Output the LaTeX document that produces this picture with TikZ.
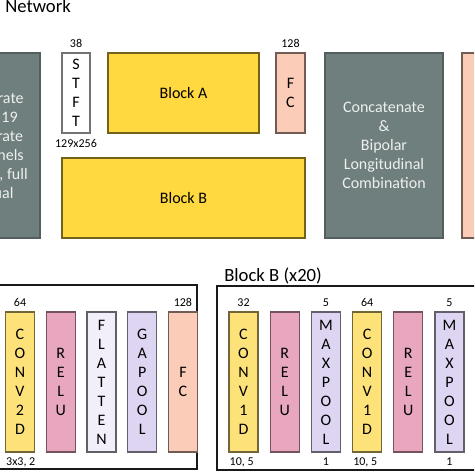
\documentclass[tikz,border=0pt]{standalone}
\usepackage{fontspec}
\setmainfont{Carlito}
\usetikzlibrary{positioning}

\definecolor{blockyellow}{HTML}{FFD93F}
\definecolor{layeryellow}{HTML}{FDE27A}
\definecolor{fcsalmon}{HTML}{FBCDB9}
\definecolor{relupink}{HTML}{E8A7BF}
\definecolor{poollilac}{HTML}{DDD5F1}
\definecolor{flatlilac}{HTML}{F3EFFA}
\definecolor{mixgrey}{HTML}{6F7F7D}

\begin{document}
\begin{tikzpicture}[
  x=0.75pt, y=-0.75pt,
  font=\fontsize{12}{14.25}\selectfont,
  box/.style={draw, line width=0.9pt, inner sep=0pt, align=center},
  layer/.style={box, minimum width=21.75pt, minimum height=105pt},
  topbox/.style={box, minimum height=60pt},
  yellowbox/.style={fill=blockyellow, draw=blockyellow!45!black},
  convbox/.style={fill=layeryellow, draw=layeryellow!45!black},
  fcbox/.style={fill=fcsalmon, draw=fcsalmon!45!black},
  relubox/.style={fill=relupink, draw=relupink!50!black},
  poolbox/.style={fill=poollilac, draw=poollilac!45!black},
  flatbox/.style={fill=flatlilac, draw=flatlilac!40!black},
  greybox/.style={box, fill=mixgrey, draw=mixgrey!75!black, text=white!88!mixgrey,
    minimum height=138.75pt},
  num/.style={font=\fontsize{9}{10}\selectfont, inner sep=0pt},
  heading/.style={font=\fontsize{14}{16}\selectfont, anchor=base west, inner sep=0pt},
  frame/.style={line width=2pt, draw=black!90}
]
\useasboundingbox (0,0) rectangle (474,474);
\clip (0,0) rectangle (474,474);

\node[heading] (nettitle) at (5,13) {Network};

% top row
\node[greybox, minimum width=67.5pt] (split) at (-5,145.5)
  {Separate\\into 19\\separate\\channels\\signal, full\\visual};
\node[topbox, fill=white, draw=black!55, minimum width=21pt] (stft) at (76,93) {S\\T\\F\\T};
\node[num, above=3.75pt of stft] (stftout) {38};
\node[num, below=4.5pt of stft] (stftin) {129x256};
\node[topbox, yellowbox, minimum width=113.25pt] (blocka) at (183.5,93) {Block A};
\node[topbox, fcbox, minimum width=21.75pt] (fctop) at (290.5,93) {F\\C};
\node[num, above=3.75pt of fctop] (fctopout) {128};
\node[topbox, yellowbox, minimum width=182.25pt] (blockb) at (183.5,198) {Block B};
\node[greybox, minimum width=88.5pt] (concat) at (384,145.5)
  {Concatenate\\\&\\Bipolar\\Longitudinal\\Combination};
\node[box, fcbox, minimum width=21.75pt, minimum height=138.75pt] (fcout) at (476.5,145.5) {};

% block A detail
\draw[frame] (-10,285) rectangle (197,469);
\node[layer, convbox] (conv2d) at (20,382) {C\\O\\N\\V\\2\\D};
\node[layer, relubox, right=7.9pt of conv2d] (relua) {R\\E\\L\\U};
\node[layer, flatbox, right=7.9pt of relua] (flatten) {F\\L\\A\\T\\T\\E\\N};
\node[layer, poolbox, right=7.9pt of flatten] (gapool) {G\\A\\P\\O\\O\\L};
\node[layer, fcbox, right=7.9pt of gapool] (fca) {F\\C};
\node[num, above=3.75pt of conv2d] (conv2dout) {64};
\node[num, below right=3.75pt and 0.75pt of conv2d.south west] (conv2dk) {3x3, 2};
\node[num, above=3.75pt of fca] (fcaout) {128};

% block B detail
\node[heading] (btitle) at (224,281) {Block B (x20)};
\draw[frame] (217,286) rectangle (484,470);
\node[layer, convbox] (convb1) at (243.5,382) {C\\O\\N\\V\\1\\D};
\node[layer, relubox, right=8.25pt of convb1] (relub1) {R\\E\\L\\U};
\node[layer, poolbox, right=8.25pt of relub1] (poolb1) {M\\A\\X\\P\\O\\O\\L};
\node[layer, convbox, right=8.25pt of poolb1] (convb2) {C\\O\\N\\V\\1\\D};
\node[layer, relubox, right=8.25pt of convb2] (relub2) {R\\E\\L\\U};
\node[layer, poolbox, right=8.25pt of relub2] (poolb2) {M\\A\\X\\P\\O\\O\\L};
\node[layer, convbox, right=8.25pt of poolb2] (convb3) {};
\foreach \c/\f in {convb1/32, convb2/64} {
  \node[num, above=3.75pt of \c] {\f};
  \node[num, below right=3.75pt and 0.75pt of \c.south west] {10, 5};
}
\foreach \p in {poolb1, poolb2} {
  \node[num, above=3.75pt of \p] {5};
  \node[num, below=3.75pt of \p] {1};
}

\end{tikzpicture}
\end{document}
